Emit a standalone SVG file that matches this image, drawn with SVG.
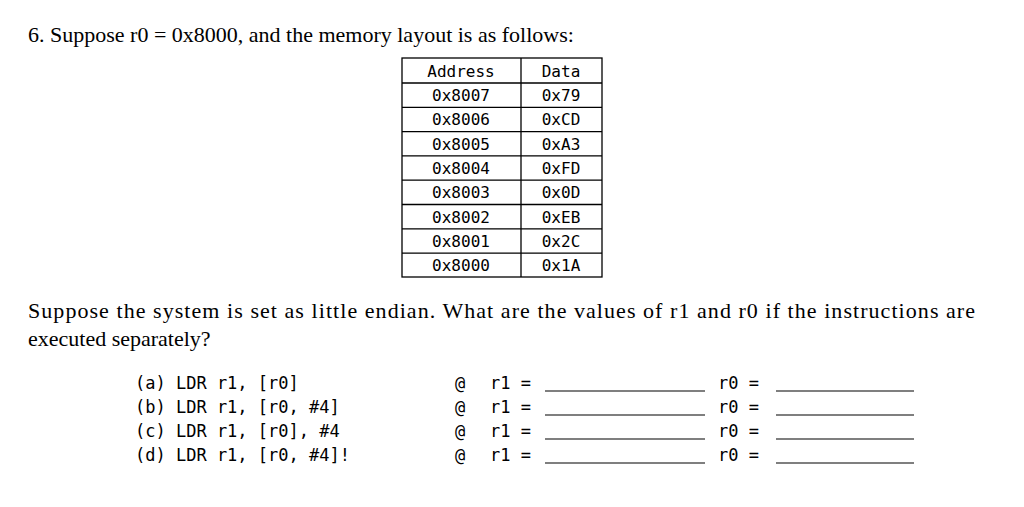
<svg xmlns="http://www.w3.org/2000/svg" width="1024" height="507" viewBox="0 0 1024 507">
<style>
.t{font-family:"Liberation Serif",serif;font-size:22px;fill:#000}
.m{font-family:"DejaVu Sans Mono","Liberation Mono",monospace;font-size:16px;fill:#000}
.c{font-family:"DejaVu Sans Mono","Liberation Mono",monospace;font-size:17px;fill:#000}
.ln{stroke:#000;stroke-width:1.2}
</style>
<rect width="1024" height="507" fill="#fff"/>
<text class="t" x="28" y="42">6.  Suppose r0 = 0x8000, and the memory layout is as follows:</text>
<g id="table" fill="none" stroke="#000" stroke-width="1.3">
<rect x="402" y="58" width="200" height="219"/>
<line x1="521" y1="58" x2="521" y2="277"/>
<path d="M402 83H602M402 107.3H602M402 131.6H602M402 155.9H602M402 180.2H602M402 204.5H602M402 228.8H602M402 253.1H602"/>
</g>
<g class="m" text-anchor="middle">
<text x="461" y="77">Address</text><text x="561" y="77">Data</text>
<text x="461" y="101">0x8007</text><text x="561" y="101">0x79</text>
<text x="461" y="125">0x8006</text><text x="561" y="125">0xCD</text>
<text x="461" y="150">0x8005</text><text x="561" y="150">0xA3</text>
<text x="461" y="174">0x8004</text><text x="561" y="174">0xFD</text>
<text x="461" y="198">0x8003</text><text x="561" y="198">0x0D</text>
<text x="461" y="223">0x8002</text><text x="561" y="223">0xEB</text>
<text x="461" y="247">0x8001</text><text x="561" y="247">0x2C</text>
<text x="461" y="271">0x8000</text><text x="561" y="271">0x1A</text>
</g>
<text class="t" x="28" y="318" textLength="947" lengthAdjust="spacing">Suppose the system is set as little endian. What are the values of r1 and r0 if the instructions are</text>
<text class="t" x="28" y="346">executed separately?</text>
<g class="c">
<text x="135" y="389">(a) LDR r1, [r0]</text>
<text x="135" y="413">(b) LDR r1, [r0, #4]</text>
<text x="135" y="437">(c) LDR r1, [r0], #4</text>
<text x="135" y="461">(d) LDR r1, [r0, #4]!</text>
<text x="455" y="389">@</text><text x="490" y="389">r1 =</text><text x="718" y="389">r0 =</text>
<text x="455" y="413">@</text><text x="490" y="413">r1 =</text><text x="718" y="413">r0 =</text>
<text x="455" y="437">@</text><text x="490" y="437">r1 =</text><text x="718" y="437">r0 =</text>
<text x="455" y="461">@</text><text x="490" y="461">r1 =</text><text x="718" y="461">r0 =</text>
</g>
<path class="ln" d="M545 391H705M776 391H914M545 415H705M776 415H914M545 439H705M776 439H914M545 463H705M776 463H914"/>
</svg>
